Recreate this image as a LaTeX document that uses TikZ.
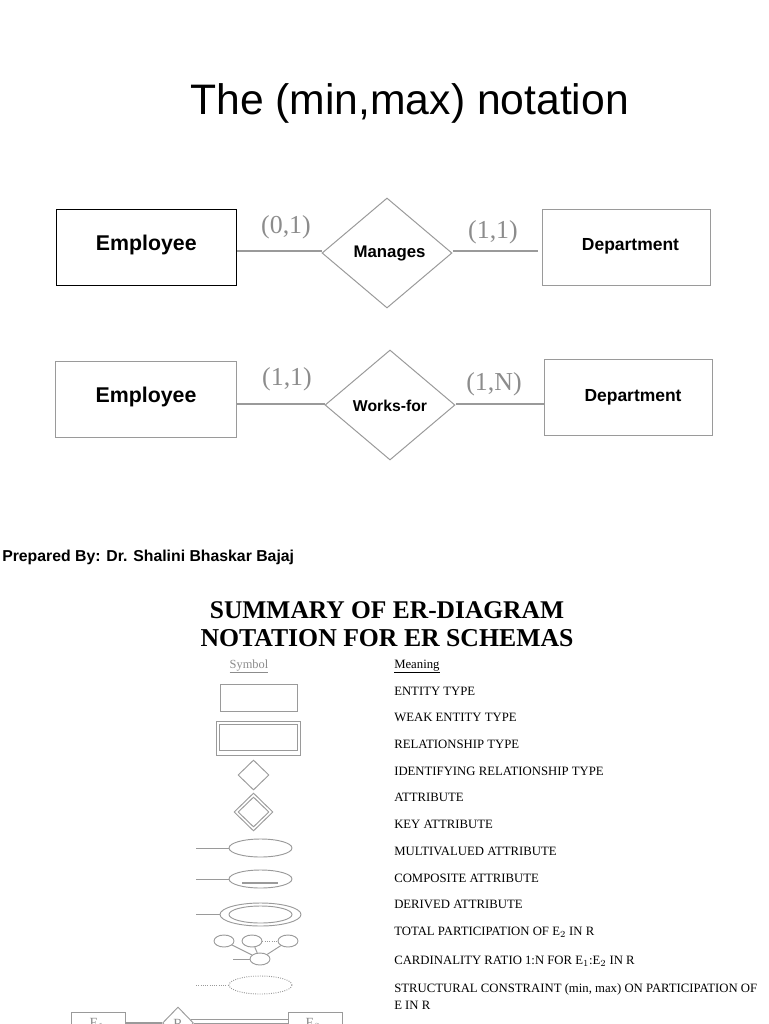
\documentclass[tikz,border=0pt]{standalone}
\usepackage{fontspec}
\setmainfont{Liberation Serif}
\newfontfamily\arialf{Liberation Sans}
\usetikzlibrary{shapes.geometric,calc}
\definecolor{ln}{HTML}{9A9A9A}
\definecolor{lnt}{HTML}{8C8C8C}
\def\px{0.75pt}
\newcommand{\shifted}[2]{\raisebox{#1}[0pt][0pt]{#2}}
\tikzset{
  x=0.75pt,y=-0.75pt,
  bent/.style={draw=#1,rectangle,inner sep=0pt,line width=0.75pt},
  bigent/.style={bent=#1,font=\arialf\bfseries\fontsize{16}{18}\selectfont},
  smlent/.style={bent=#1,font=\arialf\bfseries\fontsize{13.1}{15}\selectfont},
  rel/.style={draw=ln,diamond,inner sep=0pt,line width=0.75pt,font=\arialf\bfseries\fontsize{#1}{14}\selectfont},
  conn/.style={draw=ln,line width=0.85pt},
  card/.style={text=lnt,font=\fontsize{19.4}{22}\selectfont,inner sep=0pt},
  item/.style={anchor=base west,inner sep=0pt,font=\fontsize{9.55}{11.5}\selectfont},
  sym/.style={draw=ln,line width=0.7pt,inner sep=0pt},
  symrect/.style={sym,rectangle},
  symdia/.style={sym,diamond},
  symell/.style={sym,ellipse},
  symln/.style={draw=ln,line width=0.7pt},
  cut/.style={anchor=base,inner sep=0pt,text=lnt,font=\fontsize{10.5}{12}\selectfont},
}
\begin{document}
\begin{tikzpicture}
\useasboundingbox (0,0) rectangle (768,1024);
\clip (0,0) rectangle (768,1024);
\node[anchor=base west,inner sep=0pt,font=\arialf\fontsize{32}{36}\selectfont] (title) at (190,114) {The (min,max) notation};
% first diagram
\node[bigent=black,minimum width=180.5*\px,minimum height=76*\px] (emp1) at (146.3,247) {\shifted{-2.8pt}{Employee}};
\node[smlent=ln,minimum width=168.5*\px,minimum height=76*\px] (dep1) at (626.5,247) {\hspace*{6pt}\shifted{-2.5pt}{Department}};
\node[rel=12.6,minimum width=130*\px,minimum height=110*\px,shape aspect=1.18] (rel1) at (387,253) {\hspace*{3.8pt}\shifted{-3pt}{Manages}};
\coordinate (dep1end) at (538,251);
\draw[conn] (emp1.east |- 0,251) -- (rel1.west |- 0,251);
\draw[conn] (rel1.east |- 0,251) -- (dep1end);
\node[card] (c1) at (286,227) {(0,1)};
\node[card] (c2) at (493,232) {(1,1)};
% second diagram
\node[bigent=ln,minimum width=181.5*\px,minimum height=76*\px] (emp2) at (146,399) {\shifted{-2.25pt}{Employee}};
\node[smlent=ln,minimum width=168.5*\px,minimum height=76.5*\px] (dep2) at (628.5,397.5) {\hspace*{6.8pt}\shifted{-2.85pt}{Department}};
\node[rel=11.8,minimum width=130*\px,minimum height=110*\px,shape aspect=1.18] (rel2) at (390,405) {\shifted{-5.2pt}{Works-for}};
\draw[conn] (emp2.east |- 0,404) -- (rel2.west |- 0,404);
\draw[conn] (rel2.east |- 0,404) -- (dep2.west |- 0,404);
\node[card] (c3) at (287,379) {(1,1)};
\node[card] (c4) at (494,384) {(1,N)};
\node[anchor=base west,inner sep=0pt,font=\arialf\bfseries\fontsize{11.85}{13}\selectfont] (prep) at (2,561) {Prepared By: Dr. Shalini Bhaskar Bajaj};
% summary
\node[anchor=base,inner sep=0pt,font=\bfseries\fontsize{19.1}{21}\selectfont] (h1) at (387,618) {SUMMARY OF ER-DIAGRAM};
\node[anchor=base,inner sep=0pt,font=\bfseries\fontsize{19.3}{21}\selectfont] (h2) at (387,646.5) {NOTATION FOR ER SCHEMAS};
\node[anchor=base,inner sep=0pt,text=lnt,font=\fontsize{9.3}{11}\selectfont] (symh) at (249,668) {\underline{Symbol}};
\node[item] (m0) at (394,668) {\underline{Meaning}};
\node[item] (m1) at (394,695) {ENTITY TYPE};
\node[item] (m2) at (394,721) {WEAK ENTITY TYPE};
\node[item] (m3) at (394,748) {RELATIONSHIP TYPE};
\node[item] (m4) at (394,775) {IDENTIFYING RELATIONSHIP TYPE};
\node[item] (m5) at (394,801) {ATTRIBUTE};
\node[item] (m6) at (394,828) {KEY ATTRIBUTE};
\node[item] (m7) at (394,855) {MULTIVALUED ATTRIBUTE};
\node[item] (m8) at (394,882) {COMPOSITE ATTRIBUTE};
\node[item] (m9) at (394,908) {DERIVED ATTRIBUTE};
\node[item] (m10) at (394,935) {TOTAL PARTICIPATION OF E$_{2}$ IN R};
\node[item] (m11) at (394,964) {CARDINALITY RATIO 1:N FOR E$_{1}$:E$_{2}$ IN R};
\node[item] (m12) at (394,992) {STRUCTURAL CONSTRAINT (min, max) ON PARTICIPATION OF};
\node[item] (m13) at (394,1009) {E IN R};
% symbols
\node[symrect,minimum width=77*\px,minimum height=27*\px] (s1) at (258.5,697.5) {};
\node[symrect,minimum width=84*\px,minimum height=34*\px] (s2o) at (258,738) {};
\node[symrect,minimum width=78*\px,minimum height=26*\px] (s2i) at (258,737) {};
\node[symdia,minimum width=31*\px,minimum height=30*\px] (s3) at (253.5,775) {};
\node[symdia,minimum width=39*\px,minimum height=38*\px] (s4o) at (253.5,812) {};
\node[symdia,minimum width=31*\px,minimum height=30*\px] (s4i) at (253.5,812) {};
\node[symell,minimum width=63*\px,minimum height=18*\px] (s5) at (260.5,848) {};
\coordinate (s5l) at (196,848);
\draw[symln] (s5l) -- (s5.west);
\node[symell,minimum width=63*\px,minimum height=18*\px] (s6) at (260.5,879) {};
\coordinate (s6l) at (196,879);
\coordinate (s6a) at (242,883);
\coordinate (s6b) at (278,883);
\draw[symln] (s6l) -- (s6.west);
\draw[symln,line width=1pt] (s6a) -- (s6b);
\node[symell,minimum width=81*\px,minimum height=23*\px] (s7o) at (260.5,914.5) {};
\node[symell,minimum width=63*\px,minimum height=17*\px] (s7i) at (260.5,914.5) {};
\coordinate (s7l) at (196,914.5);
\draw[symln,line width=1pt] (s7l) -- (s7o.west);
\node[symell,minimum width=20*\px,minimum height=12*\px] (ca) at (224,941) {};
\node[symell,minimum width=20*\px,minimum height=12*\px] (cb) at (252,941) {};
\node[symell,minimum width=20*\px,minimum height=12*\px] (cc) at (288,941) {};
\node[symell,minimum width=20*\px,minimum height=12*\px] (cd) at (260,959) {};
\coordinate (cl) at (233,959);
\draw[symln] (ca) -- (cd);
\draw[symln] (cb) -- (cd);
\draw[symln] (cc) -- (cd);
\draw[symln] (cl) -- (cd);
\draw[symln,densely dotted] (cb) -- (cc);
\node[symell,densely dotted,minimum width=63*\px,minimum height=18*\px] (s9) at (260.5,985) {};
\coordinate (s9l) at (196,985);
\draw[symln,densely dotted] (s9l) -- (s9.west);
\node[symrect,minimum width=54*\px,minimum height=30*\px] (e1) at (98,1027) {};
\node[symrect,minimum width=54*\px,minimum height=30*\px] (e2) at (315,1027) {};
\node[symdia,minimum width=31*\px,minimum height=32*\px] (r) at (178,1023) {};
\node[cut] (e1t) at (97,1027) {E$_1$};
\node[cut] (e2t) at (313,1027) {E$_2$};
\node[cut] (rt) at (178,1028) {R};
\draw[symln,line width=1pt] (e1.east |- r.west) -- (r.west);
\draw[symln] (e2.west |- r.east) -- (r.east);
\coordinate (rup) at ($(r.north)!0.8!(r.east)$);
\draw[symln] (e2.west |- rup) -- (rup);
\end{tikzpicture}
\end{document}
